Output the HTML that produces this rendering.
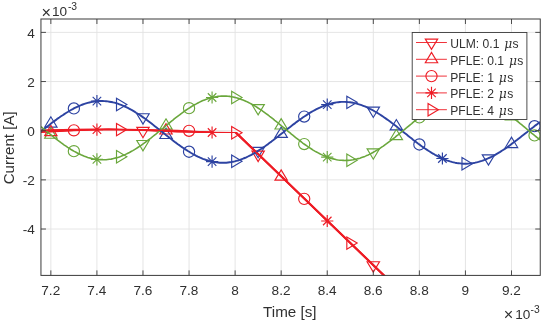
<!DOCTYPE html>
<html lang="en"><head><meta charset="utf-8"><title>Current vs Time</title>
<style>html,body{margin:0;padding:0;background:#fff}body{width:550px;height:327px;overflow:hidden}</style>
</head><body>
<svg width="550" height="327" viewBox="0 0 550 327" style="display:block" font-family="'Liberation Sans', sans-serif">
<rect width="550" height="327" fill="#fff"/>
<defs><clipPath id="c"><rect x="40.95" y="19.0" width="499.30" height="256.40"/></clipPath></defs>
<path d="M50.85 19.0V275.4M96.92 19.0V275.4M142.98 19.0V275.4M189.05 19.0V275.4M235.11 19.0V275.4M281.17 19.0V275.4M327.24 19.0V275.4M373.30 19.0V275.4M419.37 19.0V275.4M465.43 19.0V275.4M511.50 19.0V275.4M40.95 229.02H540.25M40.95 179.86H540.25M40.95 130.70H540.25M40.95 81.54H540.25M40.95 32.38H540.25" stroke="#e2e2e2" stroke-width="0.9" fill="none"/>
<g clip-path="url(#c)">
<path d="M136.78 113.77H149.18L142.98 124.12Z" fill="none" stroke="#2d43a2" stroke-width="1.15"/>
<path d="M251.94 147.39H264.34L258.14 157.74Z" fill="none" stroke="#2d43a2" stroke-width="1.15"/>
<path d="M367.10 107.09H379.50L373.30 117.44Z" fill="none" stroke="#2d43a2" stroke-width="1.15"/>
<path d="M482.27 154.80H494.67L488.47 165.15Z" fill="none" stroke="#2d43a2" stroke-width="1.15"/>
<path d="M136.78 140.51H149.18L142.98 150.86Z" fill="none" stroke="#6aa73c" stroke-width="1.15"/>
<path d="M251.94 104.57H264.34L258.14 114.92Z" fill="none" stroke="#6aa73c" stroke-width="1.15"/>
<path d="M367.10 148.85H379.50L373.30 159.20Z" fill="none" stroke="#6aa73c" stroke-width="1.15"/>
<path d="M482.27 98.59H494.67L488.47 108.94Z" fill="none" stroke="#6aa73c" stroke-width="1.15"/>
<polyline points="40.95,131.78 73.88,130.30 108.43,129.43 142.98,130.22 177.53,131.53 212.08,132.45 236.15,132.50 396.69,287.35" fill="none" stroke="#ee1c25" stroke-width="1.2" stroke-linejoin="round"/>
<path d="M136.78 127.37H149.18L142.98 137.72Z" fill="none" stroke="#ee1c25" stroke-width="1.15"/>
<path d="M251.94 151.17H264.34L258.14 161.52Z" fill="none" stroke="#ee1c25" stroke-width="1.15"/>
<path d="M367.10 261.78H379.50L373.30 272.13Z" fill="none" stroke="#ee1c25" stroke-width="1.15"/>
<path d="M44.65 127.15H57.05L50.85 116.80Z" fill="none" stroke="#2d43a2" stroke-width="1.15"/>
<path d="M159.81 138.46H172.21L166.01 128.11Z" fill="none" stroke="#2d43a2" stroke-width="1.15"/>
<path d="M274.97 137.43H287.37L281.17 127.08Z" fill="none" stroke="#2d43a2" stroke-width="1.15"/>
<path d="M390.14 129.85H402.54L396.34 119.50Z" fill="none" stroke="#2d43a2" stroke-width="1.15"/>
<path d="M505.30 147.55H517.70L511.50 137.20Z" fill="none" stroke="#2d43a2" stroke-width="1.15"/>
<path d="M44.65 138.25H57.05L50.85 127.90Z" fill="none" stroke="#6aa73c" stroke-width="1.15"/>
<path d="M159.81 129.11H172.21L166.01 118.76Z" fill="none" stroke="#6aa73c" stroke-width="1.15"/>
<path d="M274.97 129.02H287.37L281.17 118.67Z" fill="none" stroke="#6aa73c" stroke-width="1.15"/>
<path d="M390.14 139.63H402.54L396.34 129.28Z" fill="none" stroke="#6aa73c" stroke-width="1.15"/>
<path d="M505.30 120.04H517.70L511.50 109.69Z" fill="none" stroke="#6aa73c" stroke-width="1.15"/>
<polyline points="40.95,132.30 73.88,130.60 108.43,129.50 142.98,130.40 177.53,131.90 212.08,132.45 235.05,132.50 395.59,287.35" fill="none" stroke="#ee1c25" stroke-width="1.2" stroke-linejoin="round"/>
<path d="M44.65 135.62H57.05L50.85 125.27Z" fill="none" stroke="#ee1c25" stroke-width="1.15"/>
<path d="M159.81 134.03H172.21L166.01 123.68Z" fill="none" stroke="#ee1c25" stroke-width="1.15"/>
<path d="M274.97 180.19H287.37L281.17 169.84Z" fill="none" stroke="#ee1c25" stroke-width="1.15"/>
<circle cx="73.88" cy="108.45" r="5.6" fill="none" stroke="#2d43a2" stroke-width="1.15"/>
<circle cx="189.05" cy="151.72" r="5.6" fill="none" stroke="#2d43a2" stroke-width="1.15"/>
<circle cx="304.21" cy="116.56" r="5.6" fill="none" stroke="#2d43a2" stroke-width="1.15"/>
<circle cx="419.37" cy="144.47" r="5.6" fill="none" stroke="#2d43a2" stroke-width="1.15"/>
<circle cx="534.53" cy="126.18" r="5.6" fill="none" stroke="#2d43a2" stroke-width="1.15"/>
<circle cx="73.88" cy="151.17" r="5.6" fill="none" stroke="#6aa73c" stroke-width="1.15"/>
<circle cx="189.05" cy="108.15" r="5.6" fill="none" stroke="#6aa73c" stroke-width="1.15"/>
<circle cx="304.21" cy="144.05" r="5.6" fill="none" stroke="#6aa73c" stroke-width="1.15"/>
<circle cx="419.37" cy="117.44" r="5.6" fill="none" stroke="#6aa73c" stroke-width="1.15"/>
<circle cx="534.53" cy="135.42" r="5.6" fill="none" stroke="#6aa73c" stroke-width="1.15"/>
<polyline points="40.95,131.25 73.88,130.00 108.43,129.35 142.98,130.05 177.53,131.15 212.08,132.45 235.80,132.50 396.34,287.35" fill="none" stroke="#ee1c25" stroke-width="1.2" stroke-linejoin="round"/>
<circle cx="73.88" cy="130.33" r="5.6" fill="none" stroke="#ee1c25" stroke-width="1.15"/>
<circle cx="189.05" cy="130.82" r="5.6" fill="none" stroke="#ee1c25" stroke-width="1.15"/>
<circle cx="304.21" cy="198.86" r="5.6" fill="none" stroke="#ee1c25" stroke-width="1.15"/>
<path d="M90.82 101.19H103.02M96.92 95.09V107.29M92.67 96.94L101.17 105.44M92.67 105.44L101.17 96.94" fill="none" stroke="#2d43a2" stroke-width="1.15"/>
<path d="M205.98 161.60H218.18M212.08 155.50V167.70M207.83 157.35L216.33 165.85M207.83 165.85L216.33 157.35" fill="none" stroke="#2d43a2" stroke-width="1.15"/>
<path d="M321.14 104.62H333.34M327.24 98.52V110.72M322.99 100.37L331.49 108.87M322.99 108.87L331.49 100.37" fill="none" stroke="#2d43a2" stroke-width="1.15"/>
<path d="M436.30 158.51H448.50M442.40 152.41V164.61M438.15 154.26L446.65 162.76M438.15 162.76L446.65 154.26" fill="none" stroke="#2d43a2" stroke-width="1.15"/>
<path d="M90.82 159.41H103.02M96.92 153.31V165.51M92.67 155.16L101.17 163.66M92.67 163.66L101.17 155.16" fill="none" stroke="#6aa73c" stroke-width="1.15"/>
<path d="M205.98 97.52H218.18M212.08 91.42V103.62M207.83 93.27L216.33 101.77M207.83 101.77L216.33 93.27" fill="none" stroke="#6aa73c" stroke-width="1.15"/>
<path d="M321.14 157.08H333.34M327.24 150.98V163.18M322.99 152.83L331.49 161.33M322.99 161.33L331.49 152.83" fill="none" stroke="#6aa73c" stroke-width="1.15"/>
<path d="M436.30 102.57H448.50M442.40 96.47V108.67M438.15 98.32L446.65 106.82M438.15 106.82L446.65 98.32" fill="none" stroke="#6aa73c" stroke-width="1.15"/>
<polyline points="40.95,130.20 73.88,129.40 108.43,129.20 142.98,129.70 177.53,130.40 212.08,132.45 236.55,132.50 397.09,287.35" fill="none" stroke="#ee1c25" stroke-width="1.2" stroke-linejoin="round"/>
<path d="M90.82 129.59H103.02M96.92 123.49V135.69M92.67 125.34L101.17 133.84M92.67 133.84L101.17 125.34" fill="none" stroke="#ee1c25" stroke-width="1.15"/>
<path d="M205.98 132.49H218.18M212.08 126.39V138.59M207.83 128.24L216.33 136.74M207.83 136.74L216.33 128.24" fill="none" stroke="#ee1c25" stroke-width="1.15"/>
<path d="M321.14 220.98H333.34M327.24 214.88V227.08M322.99 216.73L331.49 225.23M322.99 225.23L331.49 216.73" fill="none" stroke="#ee1c25" stroke-width="1.15"/>
<polyline points="41.0,131.5 42.6,130.1 44.3,128.8 46.0,127.5 47.6,126.2 49.3,124.9 51.0,123.6 52.6,122.3 54.3,121.1 56.0,119.9 57.6,118.6 59.3,117.5 61.0,116.3 62.7,115.2 64.3,114.1 66.0,113.0 67.7,112.0 69.3,111.0 71.0,110.0 72.7,109.1 74.3,108.2 76.0,107.4 77.7,106.6 79.4,105.8 81.0,105.2 82.7,104.5 84.4,103.9 86.0,103.4 87.7,102.9 89.4,102.5 91.0,102.1 92.7,101.8 94.4,101.5 96.1,101.3 97.7,101.1 99.4,101.0 101.1,101.0 102.7,101.0 104.4,101.1 106.1,101.2 107.7,101.4 109.4,101.7 111.1,102.0 112.8,102.3 114.4,102.7 116.1,103.2 117.8,103.7 119.4,104.3 121.1,104.9 122.8,105.6 124.4,106.3 126.1,107.1 127.8,107.9 129.5,108.8 131.1,109.7 132.8,110.6 134.5,111.6 136.1,112.7 137.8,113.7 139.5,114.8 141.1,115.9 142.8,117.1 144.5,118.3 146.2,119.5 147.8,120.7 149.5,122.0 151.2,123.3 152.8,124.6 154.5,125.9 156.2,127.2 157.8,128.5 159.5,129.8 161.2,131.2 162.9,132.5 164.5,133.8 166.2,135.2 167.9,136.5 169.5,137.8 171.2,139.1 172.9,140.4 174.5,141.7 176.2,142.9 177.9,144.2 179.6,145.4 181.2,146.6 182.9,147.7 184.6,148.8 186.2,149.9 187.9,151.0 189.6,152.0 191.2,153.0 192.9,154.0 194.6,154.9 196.3,155.8 197.9,156.6 199.6,157.4 201.3,158.1 202.9,158.8 204.6,159.4 206.3,160.0 207.9,160.5 209.6,161.0 211.3,161.4 212.9,161.8 214.6,162.1 216.3,162.3 218.0,162.5 219.6,162.7 221.3,162.8 223.0,162.8 224.6,162.8 226.3,162.7 228.0,162.5 229.6,162.3 231.3,162.1 233.0,161.7 234.7,161.4 236.3,160.9 238.0,160.5 239.7,159.9 241.3,159.3 243.0,158.7 244.7,158.0 246.3,157.3 248.0,156.5 249.7,155.7 251.4,154.8 253.0,153.9 254.7,152.9 256.4,151.9 258.0,150.9 259.7,149.8 261.4,148.7 263.0,147.6 264.7,146.5 266.4,145.3 268.1,144.1 269.7,142.8 271.4,141.6 273.1,140.3 274.7,139.0 276.4,137.7 278.1,136.4 279.7,135.1 281.4,133.8 283.1,132.5 284.8,131.1 286.4,129.8 288.1,128.5 289.8,127.2 291.4,125.9 293.1,124.6 294.8,123.4 296.4,122.1 298.1,120.9 299.8,119.6 301.5,118.5 303.1,117.3 304.8,116.2 306.5,115.1 308.1,114.0 309.8,112.9 311.5,111.9 313.1,111.0 314.8,110.1 316.5,109.2 318.2,108.3 319.8,107.6 321.5,106.8 323.2,106.1 324.8,105.5 326.5,104.9 328.2,104.3 329.8,103.8 331.5,103.4 333.2,103.0 334.9,102.7 336.5,102.4 338.2,102.2 339.9,102.0 341.5,101.9 343.2,101.9 344.9,101.9 346.5,102.0 348.2,102.1 349.9,102.3 351.6,102.5 353.2,102.8 354.9,103.2 356.6,103.6 358.2,104.1 359.9,104.6 361.6,105.2 363.2,105.8 364.9,106.4 366.6,107.2 368.3,107.9 369.9,108.8 371.6,109.6 373.3,110.5 374.9,111.5 376.6,112.4 378.3,113.5 379.9,114.5 381.6,115.6 383.3,116.7 384.9,117.9 386.6,119.1 388.3,120.3 390.0,121.5 391.6,122.8 393.3,124.1 395.0,125.3 396.6,126.6 398.3,128.0 400.0,129.3 401.6,130.6 403.3,131.9 405.0,133.3 406.7,134.6 408.3,135.9 410.0,137.3 411.7,138.6 413.3,139.9 415.0,141.2 416.7,142.5 418.3,143.7 420.0,144.9 421.7,146.2 423.4,147.4 425.0,148.5 426.7,149.6 428.4,150.8 430.0,151.8 431.7,152.9 433.4,153.8 435.0,154.8 436.7,155.7 438.4,156.6 440.1,157.4 441.7,158.2 443.4,158.9 445.1,159.6 446.7,160.3 448.4,160.8 450.1,161.4 451.7,161.9 453.4,162.3 455.1,162.7 456.8,163.0 458.4,163.2 460.1,163.4 461.8,163.6 463.4,163.7 465.1,163.7 466.8,163.7 468.4,163.6 470.1,163.4 471.8,163.2 473.5,163.0 475.1,162.7 476.8,162.3 478.5,161.9 480.1,161.4 481.8,160.9 483.5,160.3 485.1,159.7 486.8,159.0 488.5,158.2 490.2,157.5 491.8,156.6 493.5,155.8 495.2,154.9 496.8,153.9 498.5,152.9 500.2,151.9 501.8,150.8 503.5,149.7 505.2,148.6 506.9,147.5 508.5,146.3 510.2,145.1 511.9,143.8 513.5,142.6 515.2,141.3 516.9,140.0 518.5,138.7 520.2,137.4 521.9,136.1 523.6,134.8 525.2,133.5 526.9,132.2 528.6,130.8 530.2,129.5 531.9,128.2 533.6,126.9 535.2,125.6 536.9,124.4 538.6,123.1 540.2,121.9" fill="none" stroke="#2d43a2" stroke-width="1.9" stroke-linejoin="round"/>
<path d="M116.50 98.29V110.69L126.85 104.49Z" fill="none" stroke="#2d43a2" stroke-width="1.15"/>
<path d="M231.66 155.06V167.46L242.01 161.26Z" fill="none" stroke="#2d43a2" stroke-width="1.15"/>
<path d="M346.82 96.14V108.54L357.17 102.34Z" fill="none" stroke="#2d43a2" stroke-width="1.15"/>
<path d="M461.98 157.49V169.89L472.33 163.69Z" fill="none" stroke="#2d43a2" stroke-width="1.15"/>
<polyline points="41.0,126.6 42.6,128.0 44.3,129.4 46.0,130.8 47.6,132.2 49.3,133.5 51.0,134.9 52.6,136.2 54.3,137.6 56.0,138.9 57.6,140.2 59.3,141.4 61.0,142.7 62.7,143.9 64.3,145.1 66.0,146.2 67.7,147.4 69.3,148.4 71.0,149.5 72.7,150.5 74.3,151.4 76.0,152.3 77.7,153.2 79.4,154.0 81.0,154.8 82.7,155.5 84.4,156.2 86.0,156.8 87.7,157.4 89.4,157.9 91.0,158.3 92.7,158.7 94.4,159.0 96.1,159.3 97.7,159.5 99.4,159.7 101.1,159.8 102.7,159.8 104.4,159.8 106.1,159.7 107.7,159.5 109.4,159.3 111.1,159.1 112.8,158.7 114.4,158.3 116.1,157.9 117.8,157.4 119.4,156.9 121.1,156.3 122.8,155.6 124.4,154.9 126.1,154.1 127.8,153.3 129.5,152.5 131.1,151.5 132.8,150.6 134.5,149.6 136.1,148.6 137.8,147.5 139.5,146.4 141.1,145.3 142.8,144.1 144.5,142.9 146.2,141.6 147.8,140.4 149.5,139.1 151.2,137.8 152.8,136.5 154.5,135.1 156.2,133.8 157.8,132.4 159.5,131.0 161.2,129.7 162.9,128.3 164.5,126.9 166.2,125.5 167.9,124.1 169.5,122.8 171.2,121.4 172.9,120.1 174.5,118.7 176.2,117.4 177.9,116.1 179.6,114.9 181.2,113.6 182.9,112.4 184.6,111.2 186.2,110.0 187.9,108.9 189.6,107.8 191.2,106.8 192.9,105.7 194.6,104.8 196.3,103.9 197.9,103.0 199.6,102.1 201.3,101.3 202.9,100.6 204.6,99.9 206.3,99.3 207.9,98.7 209.6,98.2 211.3,97.7 212.9,97.3 214.6,97.0 216.3,96.7 218.0,96.4 219.6,96.3 221.3,96.1 223.0,96.1 224.6,96.1 226.3,96.1 228.0,96.3 229.6,96.4 231.3,96.7 233.0,97.0 234.7,97.4 236.3,97.8 238.0,98.2 239.7,98.8 241.3,99.4 243.0,100.0 244.7,100.7 246.3,101.4 248.0,102.2 249.7,103.1 251.4,104.0 253.0,104.9 254.7,105.9 256.4,106.9 258.0,108.0 259.7,109.1 261.4,110.2 263.0,111.4 264.7,112.6 266.4,113.8 268.1,115.0 269.7,116.3 271.4,117.6 273.1,118.9 274.7,120.3 276.4,121.6 278.1,123.0 279.7,124.4 281.4,125.8 283.1,127.2 284.8,128.5 286.4,129.9 288.1,131.3 289.8,132.7 291.4,134.1 293.1,135.4 294.8,136.8 296.4,138.1 298.1,139.4 299.8,140.7 301.5,142.0 303.1,143.3 304.8,144.5 306.5,145.7 308.1,146.8 309.8,147.9 311.5,149.0 313.1,150.1 314.8,151.1 316.5,152.0 318.2,152.9 319.8,153.8 321.5,154.6 323.2,155.4 324.8,156.1 326.5,156.8 328.2,157.4 329.8,158.0 331.5,158.5 333.2,158.9 334.9,159.3 336.5,159.7 338.2,160.0 339.9,160.2 341.5,160.3 343.2,160.4 344.9,160.5 346.5,160.4 348.2,160.4 349.9,160.2 351.6,160.0 353.2,159.8 354.9,159.4 356.6,159.1 358.2,158.6 359.9,158.2 361.6,157.6 363.2,157.0 364.9,156.4 366.6,155.6 368.3,154.9 369.9,154.1 371.6,153.2 373.3,152.3 374.9,151.4 376.6,150.4 378.3,149.4 379.9,148.3 381.6,147.2 383.3,146.1 384.9,144.9 386.6,143.7 388.3,142.4 390.0,141.2 391.6,139.9 393.3,138.6 395.0,137.3 396.6,135.9 398.3,134.6 400.0,133.2 401.6,131.9 403.3,130.5 405.0,129.1 406.7,127.7 408.3,126.3 410.0,125.0 411.7,123.6 413.3,122.2 415.0,120.9 416.7,119.5 418.3,118.2 420.0,116.9 421.7,115.7 423.4,114.4 425.0,113.2 426.7,112.0 428.4,110.8 430.0,109.7 431.7,108.6 433.4,107.6 435.0,106.5 436.7,105.6 438.4,104.6 440.1,103.7 441.7,102.9 443.4,102.1 445.1,101.4 446.7,100.7 448.4,100.0 450.1,99.5 451.7,98.9 453.4,98.5 455.1,98.0 456.8,97.7 458.4,97.4 460.1,97.1 461.8,97.0 463.4,96.8 465.1,96.8 466.8,96.8 468.4,96.8 470.1,96.9 471.8,97.1 473.5,97.4 475.1,97.6 476.8,98.0 478.5,98.4 480.1,98.9 481.8,99.4 483.5,100.0 485.1,100.6 486.8,101.3 488.5,102.0 490.2,102.8 491.8,103.7 493.5,104.6 495.2,105.5 496.8,106.5 498.5,107.5 500.2,108.5 501.8,109.6 503.5,110.8 505.2,111.9 506.9,113.1 508.5,114.3 510.2,115.6 511.9,116.9 513.5,118.2 515.2,119.5 516.9,120.8 518.5,122.2 520.2,123.6 521.9,124.9 523.6,126.3 525.2,127.7 526.9,129.1 528.6,130.5 530.2,131.9 531.9,133.3 533.6,134.6 535.2,136.0 536.9,137.3 538.6,138.7 540.2,140.0" fill="none" stroke="#6aa73c" stroke-width="1.6" stroke-linejoin="round"/>
<path d="M116.50 150.48V162.88L126.85 156.68Z" fill="none" stroke="#6aa73c" stroke-width="1.15"/>
<path d="M231.66 91.26V103.66L242.01 97.46Z" fill="none" stroke="#6aa73c" stroke-width="1.15"/>
<path d="M346.82 153.99V166.39L357.17 160.19Z" fill="none" stroke="#6aa73c" stroke-width="1.15"/>
<path d="M461.98 90.56V102.96L472.33 96.76Z" fill="none" stroke="#6aa73c" stroke-width="1.15"/>
<polyline points="40.95,130.72 73.88,129.70 108.43,129.27 142.98,129.88 177.53,130.78 212.08,132.45 235.45,132.50 395.99,287.35" fill="none" stroke="#ee1c25" stroke-width="1.2" stroke-linejoin="round"/>
<path d="M116.50 123.39V135.79L126.85 129.59Z" fill="none" stroke="#ee1c25" stroke-width="1.15"/>
<path d="M231.66 126.47V138.87L242.01 132.67Z" fill="none" stroke="#ee1c25" stroke-width="1.15"/>
<path d="M346.82 236.90V249.30L357.17 243.10Z" fill="none" stroke="#ee1c25" stroke-width="1.15"/>
</g>
<path d="M50.85 275.4v-5M50.85 19.0v5M96.92 275.4v-5M96.92 19.0v5M142.98 275.4v-5M142.98 19.0v5M189.05 275.4v-5M189.05 19.0v5M235.11 275.4v-5M235.11 19.0v5M281.17 275.4v-5M281.17 19.0v5M327.24 275.4v-5M327.24 19.0v5M373.30 275.4v-5M373.30 19.0v5M419.37 275.4v-5M419.37 19.0v5M465.43 275.4v-5M465.43 19.0v5M511.50 275.4v-5M511.50 19.0v5M40.95 229.02h5M540.25 229.02h-5M40.95 179.86h5M540.25 179.86h-5M40.95 130.70h5M540.25 130.70h-5M40.95 81.54h5M540.25 81.54h-5M40.95 32.38h5M540.25 32.38h-5" stroke="#3a3a3a" stroke-width="0.9" fill="none"/>
<rect x="40.95" y="19.0" width="499.30" height="256.40" fill="none" stroke="#3a3a3a" stroke-width="1"/>
<g font-size="13.6" fill="#303030">
<text x="50.75" y="295.2" text-anchor="middle">7.2</text>
<text x="96.82" y="295.2" text-anchor="middle">7.4</text>
<text x="142.88" y="295.2" text-anchor="middle">7.6</text>
<text x="188.95" y="295.2" text-anchor="middle">7.8</text>
<text x="235.01" y="295.2" text-anchor="middle">8</text>
<text x="281.07" y="295.2" text-anchor="middle">8.2</text>
<text x="327.14" y="295.2" text-anchor="middle">8.4</text>
<text x="373.20" y="295.2" text-anchor="middle">8.6</text>
<text x="419.27" y="295.2" text-anchor="middle">8.8</text>
<text x="465.33" y="295.2" text-anchor="middle">9</text>
<text x="511.40" y="295.2" text-anchor="middle">9.2</text>
<text x="34.9" y="234.32" text-anchor="end">-4</text>
<text x="34.9" y="185.16" text-anchor="end">-2</text>
<text x="34.9" y="136.00" text-anchor="end">0</text>
<text x="34.9" y="86.84" text-anchor="end">2</text>
<text x="34.9" y="37.68" text-anchor="end">4</text>
<text x="46.20" y="17.70" font-size="16.3" text-anchor="middle">×</text>
<text x="51.90" y="15.70">10</text>
<text x="67.90" y="10.10" font-size="10.3">-3</text>
<text x="508.40" y="320.40" font-size="16.3" text-anchor="middle">×</text>
<text x="515.20" y="318.70">10</text>
<text x="530.50" y="313.10" font-size="10.3">-3</text>
</g>
<text x="289.8" y="316.7" font-size="15.2" text-anchor="middle" fill="#303030">Time [s]</text>
<text transform="translate(14.0 147.8) rotate(-90)" font-size="15.1" text-anchor="middle" fill="#303030">Current [A]</text>
<rect x="412.2" y="32.5" width="114.70" height="87.00" fill="#fff" stroke="#3a3a3a" stroke-width="0.9"/>
<path d="M416 42.50H446.9" stroke="#ee1c25" stroke-width="0.9"/>
<path d="M425.30 39.05H437.70L431.50 49.40Z" fill="none" stroke="#ee1c25" stroke-width="1.15"/>
<text x="450.3" y="47.90" font-size="12.1" fill="#303030">ULM: 0.1 <tspan font-family="'DejaVu Serif', 'Liberation Serif', serif" font-style="italic" font-size="12.3" dx="1.5">μ</tspan><tspan dx="0.3">s</tspan></text>
<path d="M416 59.30H446.9" stroke="#ee1c25" stroke-width="0.9"/>
<path d="M425.30 62.75H437.70L431.50 52.40Z" fill="none" stroke="#ee1c25" stroke-width="1.15"/>
<text x="450.3" y="64.70" font-size="12.1" fill="#303030">PFLE: 0.1 <tspan font-family="'DejaVu Serif', 'Liberation Serif', serif" font-style="italic" font-size="12.3" dx="1.5">μ</tspan><tspan dx="0.3">s</tspan></text>
<path d="M416 76.10H446.9" stroke="#ee1c25" stroke-width="0.9"/>
<circle cx="431.50" cy="76.10" r="5.6" fill="none" stroke="#ee1c25" stroke-width="1.15"/>
<text x="450.3" y="81.50" font-size="12.1" fill="#303030">PFLE: 1 <tspan font-family="'DejaVu Serif', 'Liberation Serif', serif" font-style="italic" font-size="12.3" dx="1.5">μ</tspan><tspan dx="0.3">s</tspan></text>
<path d="M416 92.90H446.9" stroke="#ee1c25" stroke-width="0.9"/>
<path d="M425.40 92.90H437.60M431.50 86.80V99.00M427.25 88.65L435.75 97.15M427.25 97.15L435.75 88.65" fill="none" stroke="#ee1c25" stroke-width="1.15"/>
<text x="450.3" y="98.30" font-size="12.1" fill="#303030">PFLE: 2 <tspan font-family="'DejaVu Serif', 'Liberation Serif', serif" font-style="italic" font-size="12.3" dx="1.5">μ</tspan><tspan dx="0.3">s</tspan></text>
<path d="M416 109.70H446.9" stroke="#ee1c25" stroke-width="0.9"/>
<path d="M428.05 103.50V115.90L438.40 109.70Z" fill="none" stroke="#ee1c25" stroke-width="1.15"/>
<text x="450.3" y="115.10" font-size="12.1" fill="#303030">PFLE: 4 <tspan font-family="'DejaVu Serif', 'Liberation Serif', serif" font-style="italic" font-size="12.3" dx="1.5">μ</tspan><tspan dx="0.3">s</tspan></text>
</svg>
</body></html>
